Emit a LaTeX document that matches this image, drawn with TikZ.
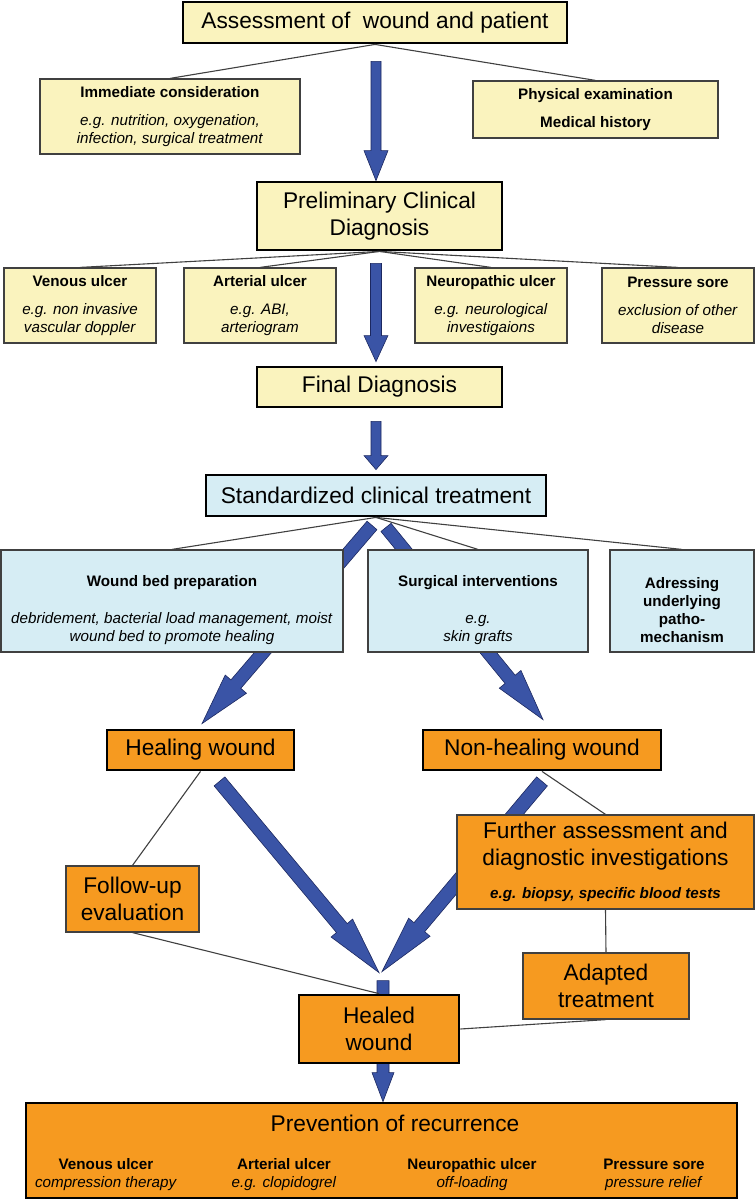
\documentclass[tikz,border=0pt]{standalone}
\usepackage{fontspec}
\setmainfont{Liberation Sans}
\usetikzlibrary{calc,backgrounds}

\definecolor{boxyellow}{RGB}{250,243,190}
\definecolor{boxblue}{RGB}{214,237,244}
\definecolor{boxorange}{RGB}{246,154,32}
\definecolor{arrowblue}{RGB}{58,84,166}
\definecolor{arrowedge}{RGB}{28,40,96}
\definecolor{edgegray}{RGB}{64,64,64}

\newcommand{\bigfont}{\fontsize{22.7}{27}\selectfont}
\newcommand{\smallfont}{\fontsize{15.2}{18}\selectfont}

% block arrow: tail, tip, shaft half width, head half width, head length
\newcommand{\blockarrow}[5]{%
  \coordinate (ba-h) at ($(#2)!#5!(#1)$);
  \filldraw[barrow] ($(#1)!#3!90:(#2)$) -- ($(ba-h)!#3!90:(#2)$)
    -- ($(ba-h)!#4!90:(#2)$) -- (#2) -- ($(ba-h)!#4!-90:(#2)$)
    -- ($(ba-h)!#3!-90:(#2)$) -- ($(#1)!#3!-90:(#2)$) -- cycle;}

\begin{document}
\begin{tikzpicture}[
  x=1pt,y=-1pt,
  box/.style={draw=edgegray,line width=1.2pt,align=center,inner sep=0pt},
  sz/.style 2 args={minimum width=#1,minimum height=#2},
  thickbox/.style={draw=black,line width=2.8pt},
  ybox/.style={box,fill=boxyellow},
  bbox/.style={box,fill=boxblue},
  obox/.style={box,fill=boxorange},
  txt/.style={align=center,inner sep=0pt},
  link/.style={draw=edgegray,line width=1.1pt},
  barrow/.style={fill=arrowblue,draw=arrowedge,line width=0.6pt,line join=miter},
]
\useasboundingbox (0,0) rectangle (755,1200);

% ----- Assessment and preliminary diagnosis -----
\node[ybox,thickbox,sz={384pt}{41pt},font=\bigfont] (assess) at (375,22.5)
  {Assessment of\ \ wound and patient};
\node[ybox,sz={260pt}{75pt},font=\smallfont] (immed) at (170,116.5)
  {\textbf{Immediate consideration}\\[10pt]\textit{e.g. nutrition, oxygenation,}\\\textit{infection, surgical treatment}};
\node[ybox,sz={245pt}{57pt},font=\smallfont\bfseries] (phys) at (595.5,109.5)
  {Physical examination\\[10pt]Medical history};
\node[ybox,thickbox,sz={245pt}{68pt},font=\bigfont] (prelim) at (379.5,216)
  {Preliminary Clinical\\Diagnosis};

% ----- Ulcer types -----
\node[ybox,sz={152pt}{75pt},font=\smallfont] (venous) at (80,305.5)
  {\textbf{Venous ulcer}\\[10pt]\textit{e.g. non invasive}\\\textit{vascular doppler}};
\node[ybox,sz={152pt}{75pt},font=\smallfont] (arterial) at (260,305.5)
  {\textbf{Arterial ulcer}\\[10pt]\textit{e.g. ABI,}\\\textit{arteriogram}};
\node[ybox,sz={152pt}{75pt},font=\smallfont] (neuro) at (491,305.5)
  {\textbf{Neuropathic ulcer}\\[10pt]\textit{e.g. neurological}\\\textit{investigaions}};
\node[ybox,sz={152pt}{75pt},font=\smallfont] (pressure) at (678,305.5)
  {\textbf{Pressure sore}\\[10pt]\textit{exclusion of other}\\\textit{disease}};
\node[ybox,thickbox,sz={245pt}{40pt},font=\bigfont] (final) at (379.5,387)
  {Final Diagnosis};

% ----- Treatment -----
\node[bbox,thickbox,sz={340pt}{41pt},font=\bigfont] (std) at (376,495.5)
  {Standardized clinical treatment};
\node[bbox,sz={342pt}{102pt}] (wbp) at (172,601) {};
\node[txt,font=\smallfont] (wbp-t) at (172,610)
  {\textbf{Wound bed preparation}\\[19pt]\textit{debridement, bacterial load management, moist}\\\textit{wound bed to promote healing}};
\node[bbox,sz={220pt}{102pt}] (surg) at (478,601) {};
\node[txt,font=\smallfont] (surg-t) at (478,610)
  {\textbf{Surgical interventions}\\[19pt]\textit{e.g.}\\\textit{skin grafts}};
\node[bbox,sz={144pt}{102pt}] (addr) at (682,601) {};
\node[txt,font=\smallfont\bfseries] (addr-t) at (682,610.5)
  {Adressing\\underlying\\patho-\\mechanism};

% ----- Outcome -----
\node[obox,thickbox,sz={187pt}{40pt},font=\bigfont] (healing) at (200.5,750) {Healing wound};
\node[obox,thickbox,sz={238pt}{40pt},font=\bigfont] (nonheal) at (542,750) {Non-healing wound};
\node[obox,sz={133pt}{66pt},font=\bigfont] (followup) at (132.5,899) {Follow-up\\evaluation};
\node[obox,sz={297pt}{94pt},font=\bigfont] (further) at (605.5,862)
  {Further assessment and\\diagnostic investigations\\[6pt]{\smallfont\bfseries\itshape e.g. biopsy, specific blood tests}};
\node[obox,sz={166pt}{66pt},font=\bigfont] (adapted) at (606,986) {Adapted\\treatment};
\node[obox,thickbox,sz={160pt}{68pt},font=\bigfont] (healed) at (379,1029) {Healed\\wound};

% ----- Prevention -----
\node[obox,thickbox,sz={711pt}{95pt}] (prevent) at (381.5,1150.5) {};
\node[txt,font=\bigfont] (prevent-t) at (395,1123) {Prevention of recurrence};
\node[txt,font=\smallfont] (pv1) at (106,1175) {\textbf{Venous ulcer}\\\textit{compression therapy}};
\node[txt,font=\smallfont] (pv2) at (284,1175) {\textbf{Arterial ulcer}\\\textit{e.g. clopidogrel}};
\node[txt,font=\smallfont] (pv3) at (472,1175) {\textbf{Neuropathic ulcer}\\\textit{off-loading}};
\node[txt,font=\smallfont] (pv4) at (654,1175) {\textbf{Pressure sore}\\\textit{pressure relief}};

% ----- Thin links -----
\draw[link] (assess.south) -- (immed.north);
\draw[link] (assess.south) -- (phys.north);
\draw[link] (prelim.south) -- (venous.north);
\draw[link] (prelim.south) -- (arterial.north);
\draw[link] (prelim.south) -- (neuro.north);
\draw[link] (prelim.south) -- (pressure.north);
\draw[link] (std.south) -- (wbp.north);
\draw[link] (std.south) -- (surg.north);
\draw[link] (std.south) -- (addr.north);
\draw[link] (healing.south) -- (followup.north);
\draw[link] (nonheal.south) -- (further.north);
\draw[link] (followup.south) -- (healed.north);
\draw[link] (further.south) -- (adapted.north);
\draw[link] (healed.east) -- (adapted.south);

% ----- Blue block arrows (behind the boxes) -----
\coordinate (a1s) at ($(assess.south)+(1,17)$);
\coordinate (a1e) at (a1s |- prelim.north);
\coordinate (a2s) at ($(prelim.south)+(-3.5,12)$);
\coordinate (a2e) at ($(a2s |- final.north)+(0,-4)$);
\coordinate (a3s) at ($(final.south)+(-3.5,13)$);
\coordinate (a3e) at ($(a3s |- std.north)+(0,-4)$);
\coordinate (a4s) at ($(std.south)+(-4,8)$);
\coordinate (a4e) at ($(healing.north)+(1.5,-5)$);
\coordinate (a5s) at ($(std.south)+(10,10)$);
\coordinate (a5e) at ($(nonheal.north)+(1,-9)$);
\coordinate (a6s) at ($(healing.south)+(19,10)$);
\coordinate (a6e) at ($(healed.north)+(0,-21)$);
\coordinate (a7s) at ($(nonheal.south)+(0,10)$);
\coordinate (a7e) at ($(healed.north)+(3,-22)$);
\coordinate (a8s) at ($(healed.north)+(4,-13)$);
\coordinate (a8e) at (a8s |- prevent.north);
\begin{scope}[on background layer]
  \blockarrow{a1s}{a1e}{5pt}{12pt}{30pt}
  \blockarrow{a2s}{a2e}{5.5pt}{12pt}{26pt}
  \blockarrow{a3s}{a3e}{5pt}{12pt}{14pt}
  \blockarrow{a4s}{a4e}{6.5pt}{14pt}{52pt}
  \blockarrow{a5s}{a5e}{6.5pt}{14pt}{52pt}
  \blockarrow{a6s}{a6e}{7pt}{14pt}{58pt}
  \blockarrow{a7s}{a7e}{7pt}{14pt}{58pt}
  \blockarrow{a8s}{a8e}{6pt}{11pt}{29pt}
\end{scope}

\end{tikzpicture}
\end{document}
